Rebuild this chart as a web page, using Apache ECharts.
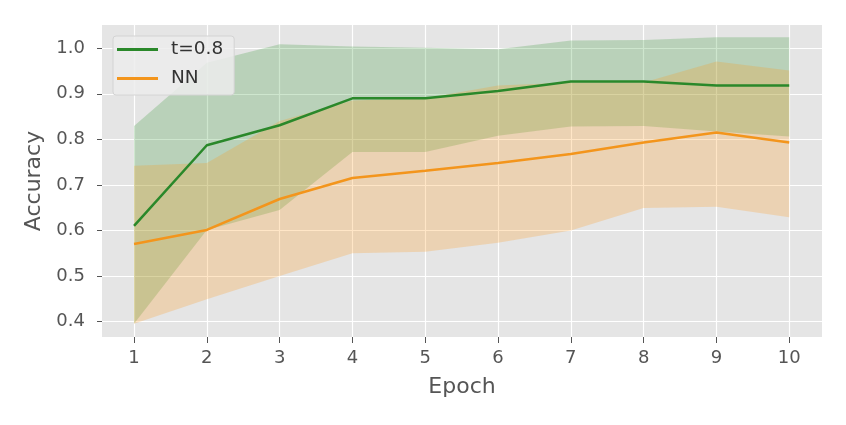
<!DOCTYPE html>
<html>
<head>
<meta charset="utf-8">
<script src="https://cdn.jsdelivr.net/npm/echarts@6/dist/echarts.min.js"></script>
<style>html,body{margin:0;padding:0;background:#fff;}#c{width:846px;height:425px;}</style>
</head>
<body>
<div id="c"></div>
<script>
const epochs = [1, 2, 3, 4, 5, 6, 7, 8, 9, 10];
const yTicks = [0.4, 0.5, 0.6, 0.7, 0.8, 0.9, 1.0];
const tAcc   = [0.610, 0.787, 0.831, 0.890, 0.890, 0.906, 0.927, 0.927, 0.918, 0.918];
const tUpper = [0.829, 0.968, 1.009, 1.004, 1.001, 0.998, 1.017, 1.018, 1.024, 1.024];
const tLower = [0.395, 0.601, 0.645, 0.772, 0.772, 0.808, 0.828, 0.829, 0.817, 0.806];
const nnAcc   = [0.570, 0.601, 0.669, 0.715, 0.731, 0.748, 0.768, 0.793, 0.815, 0.793];
const nnUpper = [0.742, 0.748, 0.840, 0.885, 0.890, 0.918, 0.925, 0.925, 0.971, 0.951];
const nnLower = [0.395, 0.449, 0.500, 0.550, 0.553, 0.573, 0.600, 0.649, 0.652, 0.629];

const GREEN = '#2a882a';
const ORANGE = '#f3951c';
const FONT = 'DejaVu Sans';

function band(name, lower, upper, fill) {
  return {
    name: name,
    type: 'custom',
    silent: true,
    z: 1,
    data: epochs.map((e, i) => [e, lower[i], upper[i]]),
    encode: { x: 0, y: [1, 2] },
    renderItem: function (params, api) {
      if (params.dataIndex !== 0) return null;
      const pts = [];
      for (let i = 0; i < epochs.length; i++) pts.push(api.coord([epochs[i], upper[i]]));
      for (let i = epochs.length - 1; i >= 0; i--) pts.push(api.coord([epochs[i], lower[i]]));
      return { type: 'polygon', shape: { points: pts }, style: { fill: fill, stroke: null } };
    }
  };
}

const chart = echarts.init(document.getElementById('c'), null, { renderer: 'canvas' });
chart.setOption({
  animation: false,
  backgroundColor: '#ffffff',
  textStyle: { fontFamily: FONT },
  grid: {
    left: 102, top: 25, right: 24, bottom: 88,
    show: true, backgroundColor: '#e5e5e5', borderWidth: 0
  },
  legend: {
    data: ['t=0.8', 'NN'],
    orient: 'vertical',
    left: 113, top: 36,
    icon: 'rect',
    itemWidth: 41, itemHeight: 3,
    itemGap: 10,
    padding: [4, 11, 7, 4],
    backgroundColor: 'rgba(236,236,236,0.85)',
    borderColor: '#d3d3d3', borderWidth: 1, borderRadius: 3,
    textStyle: { fontFamily: FONT, fontSize: 18.5, color: '#333', lineHeight: 18, padding: [0, 0, 0, 8] }
  },
  xAxis: {
    type: 'value',
    min: 0.56, max: 10.45,
    name: 'Epoch', nameLocation: 'middle', nameGap: 39,
    nameTextStyle: { fontFamily: FONT, fontSize: 22, color: '#555' },
    axisLine: { show: false },
    axisTick: { show: true, length: 6, lineStyle: { color: '#555' }, customValues: epochs },
    axisLabel: { fontFamily: FONT, fontSize: 18, color: '#555', margin: 12, customValues: epochs },
    splitLine: { show: true, lineStyle: { color: '#ffffff', width: 1.2 } }
  },
  yAxis: {
    type: 'value',
    min: 0.366, max: 1.051,
    name: 'Accuracy', nameLocation: 'middle', nameGap: 57, nameRotate: 90,
    nameTextStyle: { fontFamily: FONT, fontSize: 22, color: '#555' },
    axisLine: { show: false },
    axisTick: { show: true, length: 5, lineStyle: { color: '#555' }, customValues: yTicks },
    axisLabel: { fontFamily: FONT, fontSize: 18, color: '#555', margin: 17, customValues: yTicks,
      formatter: v => v.toFixed(1) },
    splitLine: { show: true, lineStyle: { color: '#ffffff', width: 1.2 } }
  },
  series: [
    band('t band', tLower, tUpper, 'rgba(34,139,34,0.22)'),
    band('NN band', nnLower, nnUpper, 'rgba(255,150,20,0.24)'),
    {
      name: 't=0.8', type: 'line', z: 3,
      data: epochs.map((e, i) => [e, tAcc[i]]),
      showSymbol: false, symbol: 'none',
      lineStyle: { color: GREEN, width: 2.5 }, itemStyle: { color: GREEN }
    },
    {
      name: 'NN', type: 'line', z: 4,
      data: epochs.map((e, i) => [e, nnAcc[i]]),
      showSymbol: false, symbol: 'none',
      lineStyle: { color: ORANGE, width: 2.5 }, itemStyle: { color: ORANGE }
    }
  ]
});
</script>
</body>
</html>
